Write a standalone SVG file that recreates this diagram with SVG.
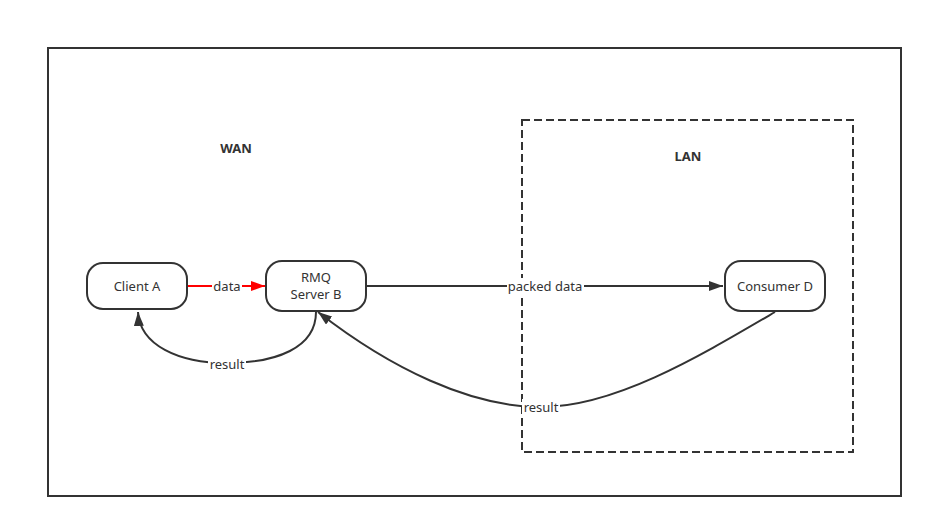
<svg xmlns="http://www.w3.org/2000/svg" width="933" height="529" viewBox="0 0 933 529">
<style>
.node{fill:#fff;stroke:#333;stroke-width:2}
.t{font-family:"Noto Sans","Open Sans",sans-serif;font-size:13px;fill:#333;text-anchor:middle;dominant-baseline:central}
.b{font-weight:bold}
.c{fill:none;stroke:#333;stroke-width:2}
.lbg{fill:#fff}
</style>
<defs>
<marker id="ah" viewBox="0 0 14 10" refX="14" refY="5" markerWidth="14" markerHeight="10" markerUnits="userSpaceOnUse" orient="auto">
<path d="M0,0 L14,5 L0,10 z" fill="#333"/>
</marker>
<marker id="ahr" viewBox="0 0 14 10" refX="14" refY="5" markerWidth="14" markerHeight="10" markerUnits="userSpaceOnUse" orient="auto">
<path d="M0,0 L14,5 L0,10 z" fill="#f00"/>
</marker>
</defs>
<rect width="933" height="529" fill="#fff"/>
<g id="wan">
<rect x="48" y="48" width="853" height="448" fill="none" stroke="#333" stroke-width="2"/>
<text class="t b" x="236" y="148">WAN</text>
</g>
<g id="lan">
<rect x="522" y="120" width="331" height="332" fill="none" stroke="#333" stroke-width="2" stroke-dasharray="8,4"/>
<text class="t b" x="688" y="156">LAN</text>
</g>
<g id="connectors">
<path d="M188,286 L265,286" stroke="#f00" stroke-width="2" fill="none" marker-end="url(#ahr)"/>
<rect class="lbg" x="212" y="278" width="30" height="16"/>
<text class="t" x="227" y="286">data</text>
<path class="c" d="M367,286 L723,286" marker-end="url(#ah)"/>
<rect class="lbg" x="507" y="278" width="77" height="16"/>
<text class="t" x="545" y="286">packed data</text>
<path class="c" d="M316,312 C316,348 276,363 227,363 C178,363 140,345 138,312" marker-end="url(#ah)"/>
<rect class="lbg" x="208" y="356" width="38" height="16"/>
<text class="t" x="227" y="364">result</text>
<path class="c" d="M775,312 C700,356 615,407 541,407 C470,407 390,368 318,312" marker-end="url(#ah)"/>
<rect class="lbg" x="522" y="399" width="38" height="16"/>
<text class="t" x="541" y="407">result</text>
</g>
<g id="client-a">
<rect class="node" x="87" y="263" width="100" height="46" rx="16"/>
<text class="t" x="137" y="286">Client A</text>
</g>
<g id="rmq-server-b">
<rect class="node" x="266" y="261" width="100" height="50" rx="16"/>
<text class="t" x="316" y="277">RMQ</text>
<text class="t" x="316" y="294">Server B</text>
</g>
<g id="consumer-d">
<rect class="node" x="725" y="261" width="100" height="50" rx="16"/>
<text class="t" x="775" y="286">Consumer D</text>
</g>
</svg>
